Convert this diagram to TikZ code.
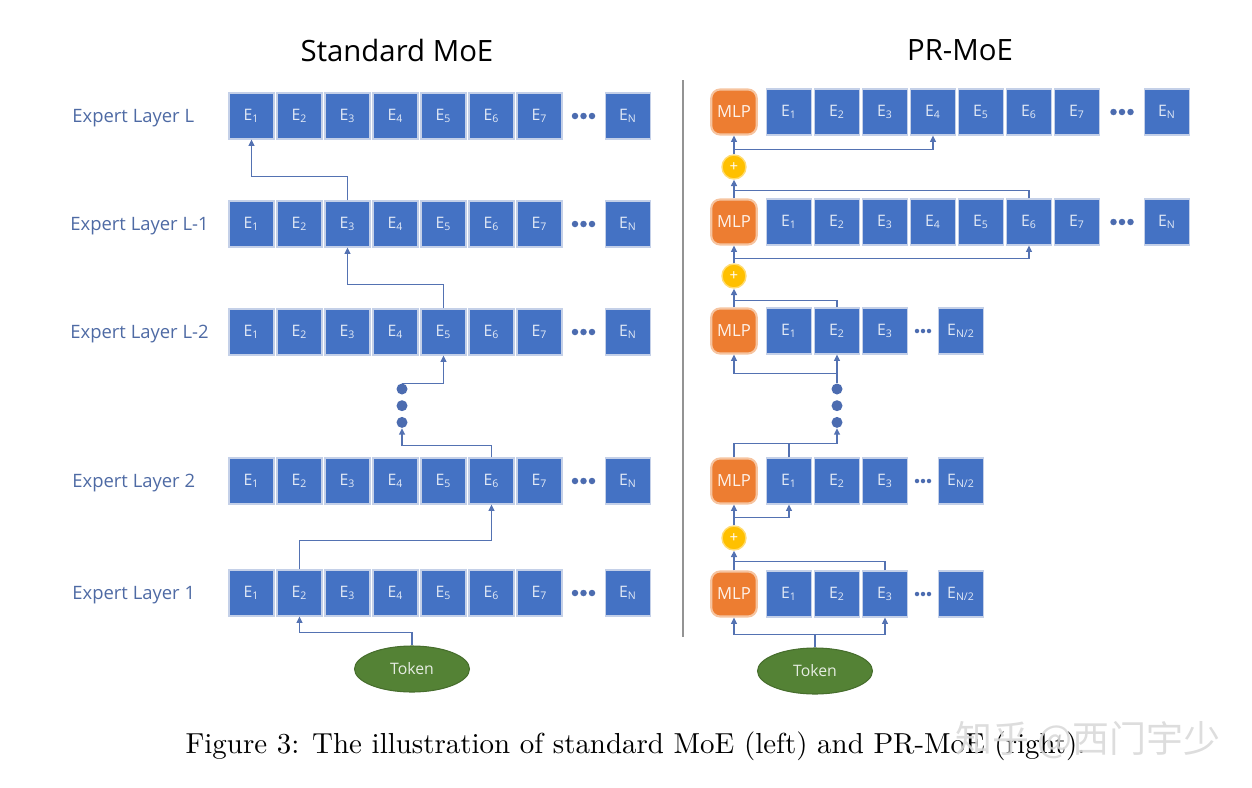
\documentclass[tikz,border=0pt]{standalone}
\usepackage{fontspec}
\usepackage{graphicx}
\usepackage{tikz}
\usetikzlibrary{positioning}
\usetikzlibrary{arrows.meta}
\usetikzlibrary{shapes.geometric}

\newfontfamily\osans{Open Sans}
\newfontfamily\cjkfont{Noto Sans CJK SC}

\definecolor{expblue}{RGB}{68,114,196}
\definecolor{expedge}{RGB}{196,208,232}
\definecolor{dotblue}{RGB}{76,108,176}
\definecolor{mlporange}{RGB}{237,125,49}
\definecolor{mlpedge}{RGB}{246,196,160}
\definecolor{plusyellow}{RGB}{255,192,0}
\definecolor{tokengreen}{RGB}{84,130,53}
\definecolor{flowblue}{RGB}{84,114,178}
\definecolor{labelblue}{RGB}{78,106,164}

\begin{document}
\begin{tikzpicture}[x=0.02cm, y=-0.02cm,
  expert/.style={rectangle, draw=expedge, line width=0.9pt, fill=expblue, minimum width=0.9cm, minimum height=0.91cm, inner sep=0pt, text=white!85!expblue, font=\osans\fontsize{9}{10}\selectfont},
  mlp/.style={rectangle, rounded corners=5pt, draw=mlpedge, line width=1.2pt, fill=mlporange, minimum width=0.91cm, minimum height=0.9cm, inner sep=0pt, text=white!90!mlporange, font=\osans\fontsize{9.5}{10}\selectfont},
  plus/.style={circle, draw=plusyellow!55!white, line width=0.8pt, fill=plusyellow, minimum size=0.48cm, inner sep=0pt, text=white, font=\osans\fontsize{8.5}{9}\selectfont},
  token/.style={ellipse, draw=tokengreen!85!black, line width=0.6pt, fill=tokengreen, minimum width=2.3cm, minimum height=0.92cm, inner sep=0pt, text=white!85!tokengreen, font=\osans\fontsize{9}{10}\selectfont},
  vdot/.style={circle, fill=dotblue, minimum size=0.22cm, inner sep=0pt},
  layer/.style={anchor=west, inner sep=0pt, text depth=0pt, text=labelblue, font=\osans\fontsize{10.5}{12}\selectfont},
  title/.style={inner sep=0pt, text depth=0pt, font=\osans\fontsize{16.7}{20}\selectfont},
  flow/.style={draw=flowblue, line width=0.7pt, -{Triangle[length=3.6pt,width=3.4pt]}},
  link/.style={draw=flowblue, line width=0.7pt}
]
\useasboundingbox (0,0) rectangle (1252,788);

% Titles
\node[title] (ltitle) at (397,50) {Standard MoE};
\node[title] (rtitle) at (960,50) {PR-MoE};
\draw[line width=1.7pt, gray!85] (683,80) -- (683,637);

% Standard MoE layers
\node[layer] (labL) at (72,116) {Expert Layer L};
\node[layer] (labK) at (70,224) {Expert Layer L-1};
\node[layer] (labJ) at (70,332) {Expert Layer L-2};
\node[layer] (labB) at (72,481) {Expert Layer 2};
\node[layer] (labA) at (72,593) {Expert Layer 1};

\foreach \row/\y in {lL/116, lK/224, lJ/332, lB/481, lA/593}{
  \foreach \i in {1,...,7}
    \node[expert] (\row\i) at ({251.5+48*(\i-1)},\y) {E\textsubscript{\i}};
  \node[expert] (\row N) at (628,\y) {E\textsubscript{N}};
  \foreach \d in {-8.5,0,8.5}
    \fill[dotblue] ({583.5+\d},\y) circle (0.065cm);
}

\node[vdot] (ld1) at (402,389) {};
\node[vdot, below=0.1cm of ld1] (ld2) {};
\node[vdot, below=0.1cm of ld2] (ld3) {};
\node[token] (ltok) at (412,669) {Token};

% PR-MoE layers
\foreach \row/\y in {rL/112, rK/222}{
  \node[mlp] (\row M) at (734,\y) {MLP};
  \foreach \i in {1,...,7}
    \node[expert] (\row\i) at ({789+48*(\i-1)},\y) {E\textsubscript{\i}};
  \node[expert] (\row N) at (1167,\y) {E\textsubscript{N}};
  \foreach \d in {-8.5,0,8.5}
    \fill[dotblue] ({1122+\d},\y) circle (0.065cm);
}
\foreach \row/\y in {rJ/331, rB/481, rA/594}{
  \node[mlp] (\row M) at (734,\y) {MLP};
  \foreach \i in {1,2,3}
    \node[expert] (\row\i) at ({789+48*(\i-1)},\y) {E\textsubscript{\i}};
  \node[expert] (\row N) at (961,\y) {E\textsubscript{N/2}};
  \foreach \d in {-6,0,6}
    \fill[dotblue] ({923+\d},\y) circle (0.045cm);
}

\node[plus] (p1) at (734,167) {+};
\node[plus] (p2) at (734,276) {+};
\node[plus] (p3) at (734,538) {+};
\node[vdot] (rd1) at (837,389) {};
\node[vdot, below=0.1cm of rd1] (rd2) {};
\node[vdot, below=0.1cm of rd2] (rd3) {};
\node[token] (rtok) at (815,671) {Token};

% Routing, standard MoE
\draw[flow] (ltok.north) -- ++(0,-13) -| (lA2.south);
\draw[flow] (lA2.north) -- ++(0,-29) -| (lB6.south);
\draw[flow] (lB6.north) -- ++(0,-12) -| (ld3.south);
\draw[flow] (ld1.north) -| (lJ5.south);
\draw[flow] (lJ5.north) -- ++(0,-24) -| (lK3.south);
\draw[flow] (lK3.north) -- ++(0,-24) -| (lL1.south);

% Routing, PR-MoE
\draw[flow] (rtok.north) -- ++(0,-13) -| (rAM.south);
\draw[flow] (rtok.north) -- ++(0,-13) -| (rA3.south);
\draw[flow] (rAM.north) -- (p3.south);
\draw[link] (rA3.north) -- ++(0,-9) -| (rAM.north);
\draw[flow] (p3.north) -- (rBM.south);
\draw[flow] (p3.north) ++(0,-8) -| (rB1.south);
\draw[flow] (rBM.north) -- ++(0,-14) -| (rd3.south);
\draw[link] (rB1.north) -- ++(0,-14);
\draw[flow] (rd1.north) -- ++(0,-10) -| (rJM.south);
\draw[flow] (rd1.north) -- (rJ2.south);
\draw[flow] (rJM.north) -- (p2.south);
\draw[link] (rJ2.north) -- ++(0,-7) -| (rJM.north);
\draw[flow] (p2.north) -- (rKM.south);
\draw[flow] (p2.north) ++(0,-5) -| (rK6.south);
\draw[flow] (rKM.north) -- (p1.south);
\draw[link] (rK6.north) -- ++(0,-8) -| (rKM.north);
\draw[flow] (p1.north) -- (rLM.south);
\draw[flow] (p1.north) ++(0,-5) -| (rL4.south);

% Caption
\node (caption) at (635.5,746) {\resizebox{18cm}{!}{Figure 3: The illustration of standard MoE (left) and PR-MoE (right).}};
\node[text=gray!30, opacity=0.9] (wmark) at (1088,740) {\resizebox{5.3cm}{!}{\cjkfont 知乎 @西门宇少}};

\end{tikzpicture}
\end{document}
